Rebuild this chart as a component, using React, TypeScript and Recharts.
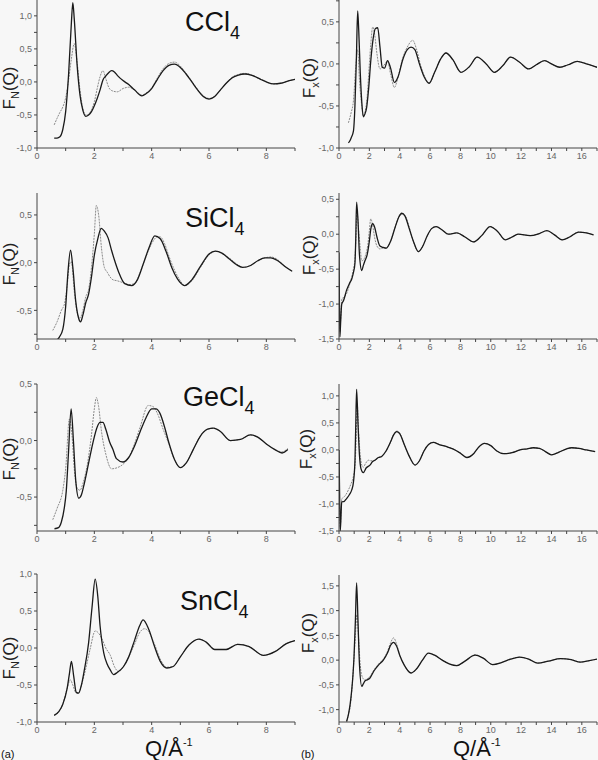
import { LineChart, Line, XAxis, YAxis } from 'recharts'

// x ticks
const X_TICKS_N = [0, 1, 2, 3, 4, 5, 6, 7, 8, 9]
const X_TICKS_X = [0, 1, 2, 3, 4, 5, 6, 7, 8, 9, 10, 11, 12, 13, 14, 15, 16, 17]

// y ticks per panel
const Y_TICKS_CCL4_N = [-1, -0.75, -0.5, -0.25, 0, 0.25, 0.5, 0.75, 1]
const Y_TICKS_CCL4_X = [-1, -0.75, -0.5, -0.25, 0, 0.25, 0.5, 0.75]
const Y_TICKS_SICL4_N = [-0.75, -0.5, -0.25, 0, 0.25, 0.5]
const Y_TICKS_SICL4_X = [-1.5, -1.25, -1, -0.75, -0.5, -0.25, 0, 0.25, 0.5]
const Y_TICKS_GECL4_N = [-0.75, -0.5, -0.25, 0, 0.25, 0.5]
const Y_TICKS_GECL4_X = [-1.5, -1.25, -1, -0.75, -0.5, -0.25, 0, 0.25, 0.5, 0.75, 1]
const Y_TICKS_SNCL4_N = [-1, -0.75, -0.5, -0.25, 0, 0.25, 0.5, 0.75, 1]
const Y_TICKS_SNCL4_X = [-1, -0.5, 0, 0.5, 1, 1.5]

// CCl4, neutron
const Q_CCL4_N_A = [0.6,0.7,0.8,0.9,1.0,1.1,1.2,1.25,1.3,1.4,1.5,1.6,1.7,1.8,1.9,2.0,2.1,2.2,2.3,2.4,2.5,2.6,2.7,2.8,3.0,3.2,3.4,3.66,3.8,4.0,4.2,4.4,4.6,4.8,5.0,5.2,5.4,5.6,5.8,6.0,6.2,6.4,6.6,6.8,7.0,7.25,7.5,7.8,8.0,8.25,8.5,8.8,9.0]
const F_CCL4_N_A = [-0.85,-0.85,-0.83,-0.72,-0.45,0.1,0.9,1.2,0.95,0.25,-0.2,-0.43,-0.52,-0.5,-0.45,-0.36,-0.25,-0.12,0.03,0.09,0.14,0.17,0.15,0.1,0.02,-0.04,-0.12,-0.21,-0.18,-0.1,0.04,0.17,0.25,0.27,0.22,0.12,0.0,-0.12,-0.22,-0.26,-0.22,-0.12,-0.02,0.06,0.1,0.12,0.1,0.04,0.0,-0.03,-0.02,0.02,0.04]
const Q_CCL4_N_B = [0.6,0.7,0.8,0.9,1.0,1.1,1.2,1.3,1.4,1.5,1.6,1.7,1.8,1.9,2.0,2.1,2.2,2.3,2.4,2.5,2.6,2.8,3.0,3.2,3.4,3.66,3.8,4.0,4.2,4.4,4.6,4.8,5.0,5.2,5.4,5.6,5.8,6.0,6.2,6.4,6.6,6.8,7.0,7.25,7.5,7.8,8.0,8.25,8.5,8.8,9.0]
const F_CCL4_N_B = [-0.65,-0.55,-0.46,-0.38,-0.24,0.02,0.35,0.58,0.3,-0.12,-0.4,-0.5,-0.49,-0.42,-0.3,-0.1,0.08,0.17,0.05,-0.08,-0.13,-0.15,-0.1,-0.08,-0.12,-0.2,-0.17,-0.09,0.06,0.2,0.28,0.3,0.24,0.13,0.01,-0.11,-0.21,-0.25,-0.22,-0.12,-0.02,0.07,0.11,0.13,0.1,0.04,0.0,-0.03,-0.02,0.02,0.04]

// CCl4, x-ray
const Q_CCL4_X_A = [0.62,0.7,0.8,0.95,1.05,1.15,1.23,1.3,1.4,1.5,1.6,1.7,1.82,1.95,2.1,2.25,2.4,2.55,2.7,2.85,3.0,3.2,3.4,3.65,3.9,4.2,4.5,4.75,5.0,5.3,5.6,5.94,6.3,6.7,7.05,7.5,8.04,8.6,9.1,9.7,10.24,10.8,11.3,11.9,12.5,13.0,13.55,14.0,14.55,15.1,15.7,16.3,17.0]
const F_CCL4_X_A = [-0.94,-0.92,-0.88,-0.8,-0.5,0.1,0.63,0.4,-0.1,-0.45,-0.63,-0.6,-0.52,-0.3,0.05,0.3,0.42,0.43,0.2,-0.04,-0.05,0.04,-0.05,-0.22,-0.15,0.05,0.17,0.2,0.17,0.0,-0.15,-0.23,-0.1,0.06,0.13,0.05,-0.1,-0.03,0.08,0.0,-0.1,-0.02,0.08,0.02,-0.06,-0.01,0.04,0.0,-0.04,-0.01,0.03,0.0,-0.04]
const Q_CCL4_X_B = [0.62,0.8,0.95,1.1,1.23,1.35,1.5,1.6,1.7,1.85,2.0,2.1,2.22,2.35,2.5,2.7,2.9,3.2,3.4,3.65,3.9,4.2,4.5,4.86,5.1,5.4,5.7,5.94,6.3,6.7,7.05,7.5,8.04,8.6,9.1,9.7,10.24,10.8,11.3,11.9,12.5,13.0,13.55,14.0,14.55,15.1,15.7,16.3,17.0]
const F_CCL4_X_B = [-0.7,-0.58,-0.44,-0.04,0.17,-0.2,-0.5,-0.62,-0.58,-0.4,0.0,0.25,0.44,0.35,0.12,-0.06,-0.03,0.03,-0.12,-0.28,-0.15,0.07,0.2,0.28,0.18,-0.03,-0.17,-0.23,-0.1,0.06,0.13,0.05,-0.1,-0.03,0.08,0.0,-0.1,-0.02,0.08,0.02,-0.06,-0.01,0.04,0.0,-0.04,-0.01,0.03,0.0,-0.04]

// SiCl4, neutron
const Q_SICL4_N_A = [0.55,0.65,0.78,0.9,1.0,1.08,1.17,1.25,1.35,1.45,1.52,1.6,1.7,1.8,1.9,2.0,2.12,2.24,2.35,2.48,2.6,2.7,2.85,3.06,3.3,3.5,3.7,3.9,4.11,4.3,4.5,4.7,4.9,5.15,5.4,5.7,6.0,6.22,6.45,6.7,6.95,7.17,7.45,7.7,7.95,8.16,8.4,8.65,8.9]
const F_SICL4_N_A = [-0.83,-0.82,-0.78,-0.7,-0.46,-0.1,0.13,-0.05,-0.4,-0.58,-0.62,-0.55,-0.42,-0.33,-0.15,0.08,0.25,0.36,0.33,0.26,0.13,0.03,-0.1,-0.22,-0.24,-0.18,-0.02,0.15,0.28,0.25,0.12,-0.05,-0.17,-0.24,-0.18,-0.04,0.09,0.12,0.1,0.04,-0.02,-0.05,-0.03,0.02,0.05,0.05,0.02,-0.04,-0.09]
const Q_SICL4_N_B = [0.55,0.7,0.85,0.96,1.05,1.13,1.2,1.3,1.4,1.5,1.6,1.7,1.8,1.9,2.0,2.07,2.15,2.25,2.35,2.45,2.55,2.65,2.8,3.0,3.2,3.4,3.6,3.8,4.0,4.2,4.3,4.45,4.6,4.8,5.0,5.15,5.4,5.7,6.0,6.25,6.45,6.7,6.95,7.17,7.45,7.7,7.95,8.16,8.4,8.65,8.9]
const F_SICL4_N_B = [-0.71,-0.62,-0.5,-0.43,-0.25,-0.02,0.01,-0.3,-0.52,-0.58,-0.5,-0.36,-0.28,-0.05,0.3,0.6,0.5,0.15,-0.05,-0.1,-0.15,-0.18,-0.19,-0.21,-0.23,-0.22,-0.1,0.06,0.2,0.27,0.27,0.2,0.07,-0.08,-0.19,-0.24,-0.19,-0.05,0.08,0.12,0.1,0.05,-0.01,-0.05,-0.03,0.02,0.05,0.06,0.03,-0.04,-0.09]

// SiCl4, x-ray
const Q_SICL4_X_A = [0,0.03,0.06,0.1,0.18,0.3,0.5,0.7,0.84,0.95,1.05,1.1,1.16,1.25,1.35,1.5,1.6,1.71,1.85,2.0,2.1,2.22,2.35,2.5,2.7,2.92,3.1,3.4,3.7,3.95,4.13,4.35,4.6,4.9,5.23,5.5,5.8,6.1,6.4,6.8,7.2,7.76,8.3,8.86,9.4,9.96,10.45,10.95,11.4,11.8,12.6,13.2,13.7,14.2,14.7,15.2,15.78,16.3,16.77]
const F_SICL4_X_A = [-0.26,-1.0,-1.47,-1.3,-1.0,-0.95,-0.8,-0.7,-0.64,-0.55,-0.42,-0.1,0.46,0.2,-0.3,-0.52,-0.45,-0.38,-0.3,-0.1,0.08,0.15,0.1,-0.04,-0.17,-0.19,-0.2,-0.1,0.1,0.25,0.3,0.26,0.1,-0.1,-0.25,-0.18,-0.03,0.08,0.11,0.06,0.0,0.02,-0.04,-0.11,-0.02,0.11,0.04,-0.08,-0.04,0.0,-0.02,0.01,0.05,-0.01,-0.08,-0.04,0.03,0.02,-0.01]
const Q_SICL4_X_B = [0.02,0.06,0.1,0.2,0.35,0.5,0.7,0.85,0.95,1.05,1.12,1.18,1.28,1.4,1.5,1.6,1.75,1.9,2.0,2.09,2.2,2.35,2.5,2.7,2.92,3.1,3.4,3.7,3.95,4.2,4.4,4.6,4.9,5.23,5.5,5.8,6.1,6.4,6.8,7.2,7.76,8.3,8.86,9.4,9.96,10.45,10.95,11.4,11.8,12.6,13.2,13.7,14.2,14.7,15.2,15.78,16.3,16.77]
const F_SICL4_X_B = [-0.9,-1.4,-1.25,-0.92,-0.9,-0.85,-0.72,-0.6,-0.5,-0.35,-0.05,0.34,0.1,-0.2,-0.38,-0.37,-0.3,-0.15,0.05,0.22,0.15,-0.05,-0.17,-0.21,-0.2,-0.2,-0.1,0.1,0.25,0.29,0.25,0.12,-0.1,-0.25,-0.18,-0.03,0.08,0.11,0.06,0.0,0.02,-0.04,-0.11,-0.02,0.11,0.04,-0.08,-0.04,0.0,-0.02,0.01,0.05,-0.01,-0.08,-0.04,0.03,0.02,-0.01]

// GeCl4, neutron
const Q_GECL4_N_A = [0.61,0.75,0.85,0.95,1.02,1.1,1.19,1.27,1.35,1.46,1.55,1.65,1.8,1.95,2.1,2.2,2.3,2.4,2.53,2.65,2.77,3.0,3.2,3.4,3.6,3.8,4.0,4.15,4.29,4.45,4.6,4.8,5.0,5.2,5.45,5.7,5.95,6.16,6.4,6.74,7.1,7.44,7.7,8.0,8.3,8.55,8.75]
const F_GECL4_N_A = [-0.78,-0.77,-0.72,-0.6,-0.45,-0.1,0.28,0.0,-0.35,-0.51,-0.48,-0.38,-0.2,-0.02,0.12,0.16,0.16,0.1,-0.01,-0.08,-0.16,-0.19,-0.15,-0.05,0.08,0.2,0.28,0.28,0.24,0.12,-0.02,-0.17,-0.24,-0.2,-0.08,0.04,0.1,0.11,0.08,0.0,0.01,0.05,0.03,-0.03,-0.08,-0.11,-0.08]
const Q_GECL4_N_B = [0.55,0.7,0.9,1.0,1.13,1.22,1.3,1.4,1.5,1.6,1.75,1.9,2.0,2.07,2.15,2.25,2.4,2.6,2.8,3.0,3.2,3.4,3.6,3.88,4.05,4.2,4.4,4.6,4.8,5.0,5.2,5.45,5.7,5.95,6.16,6.4,6.74,7.1,7.44,7.7,8.0,8.3,8.55,8.75]
const F_GECL4_N_B = [-0.7,-0.6,-0.44,-0.25,0.19,0.05,-0.25,-0.42,-0.44,-0.38,-0.22,0.05,0.28,0.38,0.3,0.08,-0.12,-0.25,-0.24,-0.21,-0.15,-0.03,0.12,0.31,0.3,0.24,0.1,-0.03,-0.17,-0.24,-0.2,-0.08,0.04,0.1,0.11,0.08,0.0,0.01,0.05,0.03,-0.03,-0.08,-0.1,-0.07]

// GeCl4, x-ray
const Q_GECL4_X_A = [0,0.04,0.08,0.18,0.35,0.5,0.7,0.84,0.95,1.05,1.1,1.16,1.25,1.35,1.45,1.6,1.8,2.04,2.2,2.37,2.6,2.81,3.1,3.4,3.6,3.8,4.0,4.3,4.6,5.01,5.3,5.6,5.9,6.22,6.6,7.1,7.5,8.0,8.42,8.9,9.2,9.58,10.0,10.4,10.84,11.4,11.93,12.4,12.8,13.2,13.6,14.0,14.5,15.0,15.34,15.8,16.3,16.88]
const F_GECL4_X_A = [0.0,-0.8,-1.51,-0.96,-0.95,-0.9,-0.82,-0.74,-0.6,-0.22,0.4,1.12,0.5,-0.1,-0.35,-0.42,-0.33,-0.28,-0.22,-0.19,-0.14,-0.12,-0.02,0.15,0.28,0.34,0.3,0.1,-0.1,-0.28,-0.2,-0.02,0.1,0.14,0.1,0.06,0.02,-0.06,-0.14,-0.06,0.05,0.12,0.08,-0.02,-0.07,-0.05,0.0,0.02,0.04,0.03,-0.03,-0.09,-0.04,0.02,0.04,0.03,0.0,-0.03]
const Q_GECL4_X_B = [0.04,0.08,0.18,0.4,0.62,0.8,0.95,1.05,1.12,1.2,1.3,1.4,1.5,1.6,1.75,1.93,2.1,2.37,2.6,2.81,3.1,3.4,3.6,3.8,4.0,4.3,4.6,5.01,5.3,5.6,5.9,6.22,6.6,7.1,7.5,8.0,8.42,8.9,9.2,9.58,10.0,10.4,10.84,11.4,11.93,12.4,12.8,13.2,13.6,14.0,14.5,15.0,15.34,15.8,16.3,16.88]
const F_GECL4_X_B = [-1.0,-1.45,-0.91,-0.85,-0.74,-0.62,-0.49,-0.3,0.1,0.86,0.3,-0.1,-0.28,-0.32,-0.25,-0.19,-0.2,-0.19,-0.14,-0.12,-0.02,0.15,0.29,0.35,0.31,0.1,-0.1,-0.28,-0.2,-0.02,0.1,0.14,0.1,0.06,0.02,-0.06,-0.14,-0.06,0.05,0.12,0.08,-0.02,-0.07,-0.05,0.0,0.02,0.04,0.03,-0.03,-0.09,-0.04,0.02,0.04,0.03,0.0,-0.03]

// SnCl4, neutron
const Q_SNCL4_N_A = [0.6,0.76,0.9,1.05,1.13,1.2,1.28,1.37,1.45,1.55,1.65,1.8,1.92,2.03,2.12,2.2,2.33,2.45,2.56,2.67,2.8,3.02,3.2,3.4,3.58,3.7,3.9,4.1,4.3,4.53,4.75,5.0,5.3,5.65,5.9,6.2,6.6,7.0,7.4,7.9,8.3,8.7,9.0]
const F_SNCL4_N_A = [-0.91,-0.86,-0.76,-0.55,-0.35,-0.18,-0.38,-0.6,-0.61,-0.5,-0.3,0.07,0.55,0.93,0.7,0.3,-0.07,-0.22,-0.3,-0.36,-0.33,-0.25,-0.12,0.1,0.3,0.38,0.25,0.02,-0.18,-0.27,-0.25,-0.12,0.04,0.12,0.08,-0.02,-0.02,0.05,0.02,-0.1,-0.05,0.06,0.1]
const Q_SNCL4_N_B = [0.6,0.76,0.9,1.05,1.16,1.25,1.35,1.45,1.55,1.7,1.85,2.03,2.15,2.27,2.4,2.56,2.7,2.85,3.02,3.2,3.4,3.6,3.75,3.9,4.1,4.3,4.53,4.75,5.0,5.3,5.65,5.9,6.2,6.6,7.0,7.4,7.9,8.3,8.7,9.0]
const F_SNCL4_N_B = [-0.91,-0.86,-0.76,-0.55,-0.43,-0.5,-0.6,-0.61,-0.5,-0.28,-0.02,0.23,0.2,0.12,0.0,-0.1,-0.25,-0.32,-0.25,-0.12,0.05,0.22,0.26,0.22,0.05,-0.15,-0.26,-0.25,-0.12,0.04,0.12,0.08,-0.02,-0.02,0.05,0.02,-0.1,-0.05,0.06,0.1]

// SnCl4, x-ray
const Q_SNCL4_X_A = [0.5,0.62,0.73,0.84,0.92,0.99,1.08,1.16,1.25,1.35,1.5,1.6,1.71,1.85,2.04,2.3,2.6,2.92,3.2,3.4,3.58,3.8,4.0,4.3,4.75,5.1,5.5,5.89,6.3,6.8,7.3,7.76,8.3,8.97,9.5,10.13,10.7,11.3,11.9,12.5,13.1,13.8,14.6,15.3,15.9,16.5,17.0]
const F_SNCL4_X_A = [-1.24,-1.1,-0.9,-0.6,-0.3,0.07,0.8,1.56,0.8,-0.1,-0.53,-0.48,-0.42,-0.4,-0.36,-0.22,-0.1,0.0,0.15,0.3,0.36,0.28,0.1,-0.1,-0.26,-0.18,0.0,0.14,0.1,0.0,-0.08,-0.11,-0.02,0.1,0.04,-0.09,-0.05,0.02,0.06,0.02,-0.06,-0.02,0.03,0.01,-0.04,-0.01,0.02]
const Q_SNCL4_X_B = [0.5,0.62,0.73,0.84,0.92,0.99,1.08,1.18,1.28,1.4,1.55,1.71,1.85,2.04,2.3,2.6,2.92,3.2,3.4,3.6,3.8,4.0,4.3,4.75,5.1,5.5,5.89,6.3,6.8,7.3,7.76,8.3,8.97,9.5,10.13,10.7,11.3,11.9,12.5,13.1,13.8,14.6,15.3,15.9,16.5,17.0]
const F_SNCL4_X_B = [-1.24,-1.1,-0.95,-0.62,-0.3,0.05,0.5,0.92,0.5,-0.1,-0.35,-0.4,-0.38,-0.33,-0.2,-0.08,0.02,0.18,0.35,0.45,0.32,0.1,-0.1,-0.26,-0.18,0.0,0.14,0.1,0.0,-0.08,-0.11,-0.02,0.11,0.04,-0.09,-0.05,0.02,0.06,0.02,-0.06,-0.02,0.03,0.01,-0.04,-0.01,0.02]

const FONT = '"Liberation Sans", Arial, sans-serif'

const pts = (q: number[], f: number[]) => q.map((x, i) => ({ q: x, v: f[i] }))

const fmtY = (v: number) => {
  if (Math.abs(v * 2 - Math.round(v * 2)) > 1e-6) return ''
  return v.toFixed(1).replace('.', ',')
}
const fmtX = (v: number) => (v % 2 === 0 ? String(v) : '')

// left column: neutron F_N(Q), right column: x-ray F_x(Q)
const PANELS = [
  { left: 0, w: 300, yw: 37, mr: 5, top: 0, bottom: 148, xt: X_TICKS_N, yd: [-1, 1.24], yt: Y_TICKS_CCL4_N, a: pts(Q_CCL4_N_A, F_CCL4_N_A), b: pts(Q_CCL4_N_B, F_CCL4_N_B) },
  { left: 300, w: 298, yw: 39, mr: 1, top: 0, bottom: 148, xt: X_TICKS_X, yd: [-1, 0.76], yt: Y_TICKS_CCL4_X, a: pts(Q_CCL4_X_A, F_CCL4_X_A), b: pts(Q_CCL4_X_B, F_CCL4_X_B) },
  { left: 0, w: 300, yw: 37, mr: 5, top: 193, bottom: 339, xt: X_TICKS_N, yd: [-0.8, 0.73], yt: Y_TICKS_SICL4_N, a: pts(Q_SICL4_N_A, F_SICL4_N_A), b: pts(Q_SICL4_N_B, F_SICL4_N_B) },
  { left: 300, w: 298, yw: 39, mr: 1, top: 193, bottom: 339, xt: X_TICKS_X, yd: [-1.5, 0.59], yt: Y_TICKS_SICL4_X, a: pts(Q_SICL4_X_A, F_SICL4_X_A), b: pts(Q_SICL4_X_B, F_SICL4_X_B) },
  { left: 0, w: 300, yw: 37, mr: 5, top: 384, bottom: 531, xt: X_TICKS_N, yd: [-0.8, 0.5], yt: Y_TICKS_GECL4_N, a: pts(Q_GECL4_N_A, F_GECL4_N_A), b: pts(Q_GECL4_N_B, F_GECL4_N_B) },
  { left: 300, w: 298, yw: 39, mr: 1, top: 384, bottom: 531, xt: X_TICKS_X, yd: [-1.5, 1.22], yt: Y_TICKS_GECL4_X, a: pts(Q_GECL4_X_A, F_GECL4_X_A), b: pts(Q_GECL4_X_B, F_GECL4_X_B) },
  { left: 0, w: 300, yw: 37, mr: 5, top: 574, bottom: 722, xt: X_TICKS_N, yd: [-1, 1.0], yt: Y_TICKS_SNCL4_N, a: pts(Q_SNCL4_N_A, F_SNCL4_N_A), b: pts(Q_SNCL4_N_B, F_SNCL4_N_B) },
  { left: 300, w: 298, yw: 39, mr: 1, top: 575, bottom: 722, xt: X_TICKS_X, yd: [-1.25, 1.72], yt: Y_TICKS_SNCL4_X, a: pts(Q_SNCL4_X_A, F_SNCL4_X_A), b: pts(Q_SNCL4_X_B, F_SNCL4_X_B) },
]

const TITLES = [
  { name: 'CCl', left: 185, top: 9 },
  { name: 'SiCl', left: 185, top: 205 },
  { name: 'GeCl', left: 183, top: 384 },
  { name: 'SnCl', left: 180, top: 588 },
]

const YLABELS = [
  { sub: 'N', x: 9, y: 88 }, { sub: 'x', x: 309, y: 78 },
  { sub: 'N', x: 9, y: 264 }, { sub: 'x', x: 309, y: 255 },
  { sub: 'N', x: 9, y: 459 }, { sub: 'x', x: 306, y: 449 },
  { sub: 'N', x: 9, y: 658 }, { sub: 'x', x: 308, y: 633 },
]

const MT = 6
const tickStyle = { fontSize: 9, fill: '#666', fontFamily: FONT }

function Panel({ p }: { p: (typeof PANELS)[number] }) {
  const h = MT + (p.bottom - p.top) + 20
  const xMax = p.xt[p.xt.length - 1]
  return (
    <div style={{ position: 'absolute', left: p.left, top: p.top - MT }}>
      <LineChart width={p.w} height={h} margin={{ top: MT, right: p.mr, bottom: 0, left: 0 }}>
        <XAxis type="number" dataKey="q" domain={[0, xMax]} ticks={p.xt} interval={0} allowDataOverflow
          tickFormatter={fmtX} tick={tickStyle} tickSize={3} height={20} stroke="#444" />
        <YAxis type="number" dataKey="v" domain={p.yd} ticks={p.yt} interval={0} allowDataOverflow
          tickFormatter={fmtY} tick={tickStyle} tickSize={3} width={p.yw} stroke="#444" />
        <Line data={p.b} dataKey="v" type="monotone" stroke="#8a8a8a" strokeWidth={1} strokeDasharray="2 1"
          dot={false} isAnimationActive={false} />
        <Line data={p.a} dataKey="v" type="monotone" stroke="#1a1a1a" strokeWidth={1.3}
          dot={false} isAnimationActive={false} />
      </LineChart>
    </div>
  )
}

export default function App() {
  return (
    <div style={{ position: 'absolute', left: 0, top: 0, width: 598, height: 760, overflow: 'hidden', background: '#f7f7f7', fontFamily: FONT, color: '#111' }}>
      {PANELS.map((p, i) => <Panel key={i} p={p} />)}
      {TITLES.map(t => (
        <div key={t.name} style={{ position: 'absolute', left: t.left, top: t.top, fontSize: 27, lineHeight: 1, whiteSpace: 'nowrap' }}>
          {t.name}<span style={{ fontSize: 18, position: 'relative', top: 8 }}>4</span>
        </div>
      ))}
      {YLABELS.map((l, i) => (
        <div key={i} style={{ position: 'absolute', left: l.x, top: l.y, transform: 'translate(-50%, -50%) rotate(-90deg)', fontSize: 17, lineHeight: 1, whiteSpace: 'nowrap', color: '#222' }}>
          F<span style={{ fontSize: 11, position: 'relative', top: 4 }}>{l.sub}</span>(Q)
        </div>
      ))}
      <div style={{ position: 'absolute', left: 145, top: 738, fontSize: 22, lineHeight: 1, whiteSpace: 'nowrap' }}>
        Q/Å<span style={{ fontSize: 11, position: 'relative', top: -10 }}>-1</span>
      </div>
      <div style={{ position: 'absolute', left: 453, top: 738, fontSize: 22, lineHeight: 1, whiteSpace: 'nowrap' }}>
        Q/Å<span style={{ fontSize: 11, position: 'relative', top: -10 }}>-1</span>
      </div>
      <div style={{ position: 'absolute', left: 1, top: 749, fontSize: 11, lineHeight: 1 }}>(a)</div>
      <div style={{ position: 'absolute', left: 301, top: 749, fontSize: 11, lineHeight: 1 }}>(b)</div>
    </div>
  )
}
